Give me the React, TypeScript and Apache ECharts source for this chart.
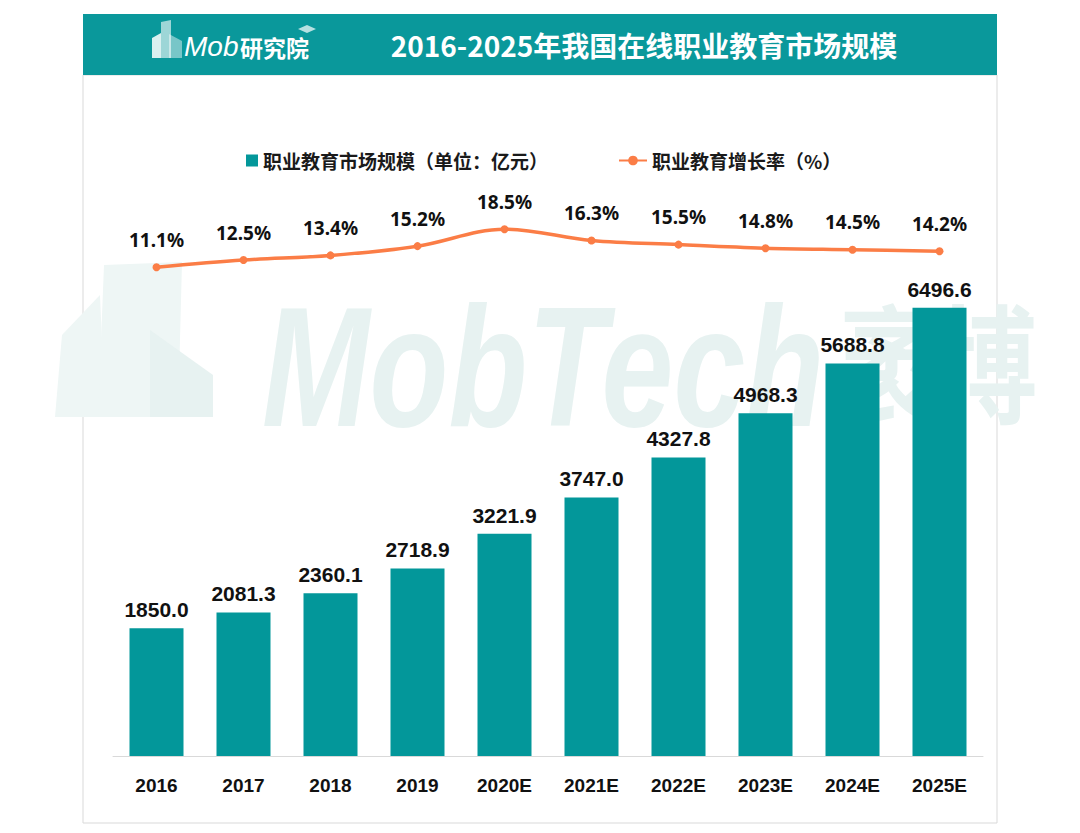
import React, { useEffect, useRef } from "react";
import * as echarts from "echarts";

const categories = ["2016", "2017", "2018", "2019", "2020E", "2021E", "2022E", "2023E", "2024E", "2025E"];
const marketSize = [1850.0, 2081.3, 2360.1, 2718.9, 3221.9, 3747.0, 4327.8, 4968.3, 5688.8, 6496.6];
const growthRate = [11.1, 12.5, 13.4, 15.2, 18.5, 16.3, 15.5, 14.8, 14.5, 14.2];
const barName = "职业教育市场规模（单位：亿元）";
const lineName = "职业教育增长率（%）";
const title = "2016-2025年我国在线职业教育市场规模";

const TEAL = "#03979a";
const ORANGE = "#fb7d46";
const FONT = "'Noto Sans CJK SC', 'Noto Sans', sans-serif";
const NUMFONT = "'Liberation Sans Narrow', 'Liberation Sans', 'Noto Sans', sans-serif";

export default function App() {
  const ref = useRef<HTMLDivElement>(null);
  useEffect(() => {
    const chart = echarts.init(ref.current!, null, { renderer: "svg" });
    const wm = "#e7f2f1";
    const wm2 = "#eef6f5";
    chart.setOption({
      animation: false,
      backgroundColor: "#ffffff",
      graphic: [
        // panel border
        { type: "rect", z: -10, shape: { x: 83, y: 75, width: 914, height: 748 }, style: { fill: "#fff", stroke: "#d9d9d9", lineWidth: 1 } },
        // header
        { type: "rect", z: -9, shape: { x: 83, y: 14, width: 914, height: 61 }, style: { fill: "#0a989b" } },
        { type: "text", z: 5, x: 644, y: 45, style: { text: title, fill: "#fff", font: `bold 28px ${FONT}`, align: "center", verticalAlign: "middle" } },
        // logo
        { type: "polygon", z: 5, shape: { points: [[152, 58], [152, 38], [161, 33], [161, 58]] }, style: { fill: "rgba(255,255,255,0.85)" } },
        { type: "polygon", z: 5, shape: { points: [[161, 58], [161, 22], [171, 20], [171, 58]] }, style: { fill: "rgba(255,255,255,0.6)" } },
        { type: "polygon", z: 5, shape: { points: [[169, 58], [169, 34], [182, 41], [182, 58]] }, style: { fill: "rgba(255,255,255,0.45)" } },
        { type: "text", z: 5, x: 184, y: 46, style: { text: "Mob", fill: "#fff", font: `italic 500 28px 'Liberation Sans', sans-serif`, verticalAlign: "middle" } },
        { type: "text", z: 5, x: 240, y: 47, style: { text: "研究院", fill: "#fff", font: `bold 23px ${FONT}`, verticalAlign: "middle" } },
        { type: "polygon", z: 5, shape: { points: [[298, 29], [307, 25], [316, 29], [307, 33]] }, style: { fill: "rgba(255,255,255,0.7)" } },
        // watermark building
        { type: "polygon", z: -5, shape: { points: [[55, 417], [62, 335], [100, 295], [105, 417]] }, style: { fill: wm2 } },
        { type: "polygon", z: -5, shape: { points: [[98, 417], [104, 265], [182, 262], [178, 417]] }, style: { fill: wm2 } },
        { type: "polygon", z: -5, shape: { points: [[150, 417], [150, 330], [213, 375], [213, 417]] }, style: { fill: wm } },
        // watermark text
        { type: "text", z: -5, x: 262, y: 452, scaleX: 0.76, style: { text: "MobTech", fill: wm, font: `italic bold 170px 'Liberation Sans', sans-serif`, verticalAlign: "bottom" } },
        { type: "text", z: -5, x: 840, y: 358, scaleX: 0.77, style: { text: "袤博", fill: wm, font: `bold 128px ${FONT}`, verticalAlign: "middle" } },
      ],
      legend: [
        {
          data: [barName], left: 241, top: 146, itemWidth: 12, itemHeight: 12, itemGap: 4,
          icon: "rect",
          textStyle: { fontFamily: FONT, fontWeight: "bold", fontSize: 19, color: "#1a1a1a" },
        },
        {
          data: [lineName], left: 613, top: 146, itemWidth: 28, itemHeight: 12, itemGap: 4,
          textStyle: { fontFamily: FONT, fontWeight: "bold", fontSize: 19, color: "#1a1a1a" },
        },
      ],
      grid: { left: 113, right: 97, top: 204, bottom: 77, containLabel: false },
      xAxis: {
        type: "category",
        data: categories,
        axisLine: { lineStyle: { color: "#d9d9d9", width: 1 } },
        axisTick: { show: false },
        axisLabel: { color: "#111", fontFamily: NUMFONT, fontWeight: "bold", fontSize: 19, margin: 20 },
      },
      yAxis: [
        { type: "value", min: 0, max: 8000, show: false, splitLine: { show: false } },
        { type: "value", min: -84, max: 23.4, show: false, splitLine: { show: false } },
      ],
      series: [
        {
          name: barName,
          type: "bar",
          data: marketSize,
          barWidth: 54,
          itemStyle: { color: TEAL },
          label: {
            show: true, position: "top", distance: 8,
            formatter: (p: any) => Number(p.value).toFixed(1),
            color: "#111", fontFamily: NUMFONT, fontWeight: "bold", fontSize: 21,
          },
        },
        {
          name: lineName,
          type: "line",
          yAxisIndex: 1,
          data: growthRate,
          smooth: 0.35,
          symbol: "circle",
          symbolSize: 8,
          lineStyle: { color: ORANGE, width: 3.5 },
          itemStyle: { color: ORANGE },
          label: {
            show: true, position: "top", distance: 14,
            formatter: (p: any) => Number(p.value).toFixed(1) + "%",
            color: "#111", fontFamily: "'Noto Sans', sans-serif", fontWeight: "bold", fontSize: 19,
          },
        },
      ],
    });
    return () => chart.dispose();
  }, []);
  return (
    <div style={{ position: "fixed", left: 0, top: 0, width: 1080, height: 833, background: "#fff" }}>
      <div ref={ref} style={{ width: 1080, height: 833 }} />
    </div>
  );
}
